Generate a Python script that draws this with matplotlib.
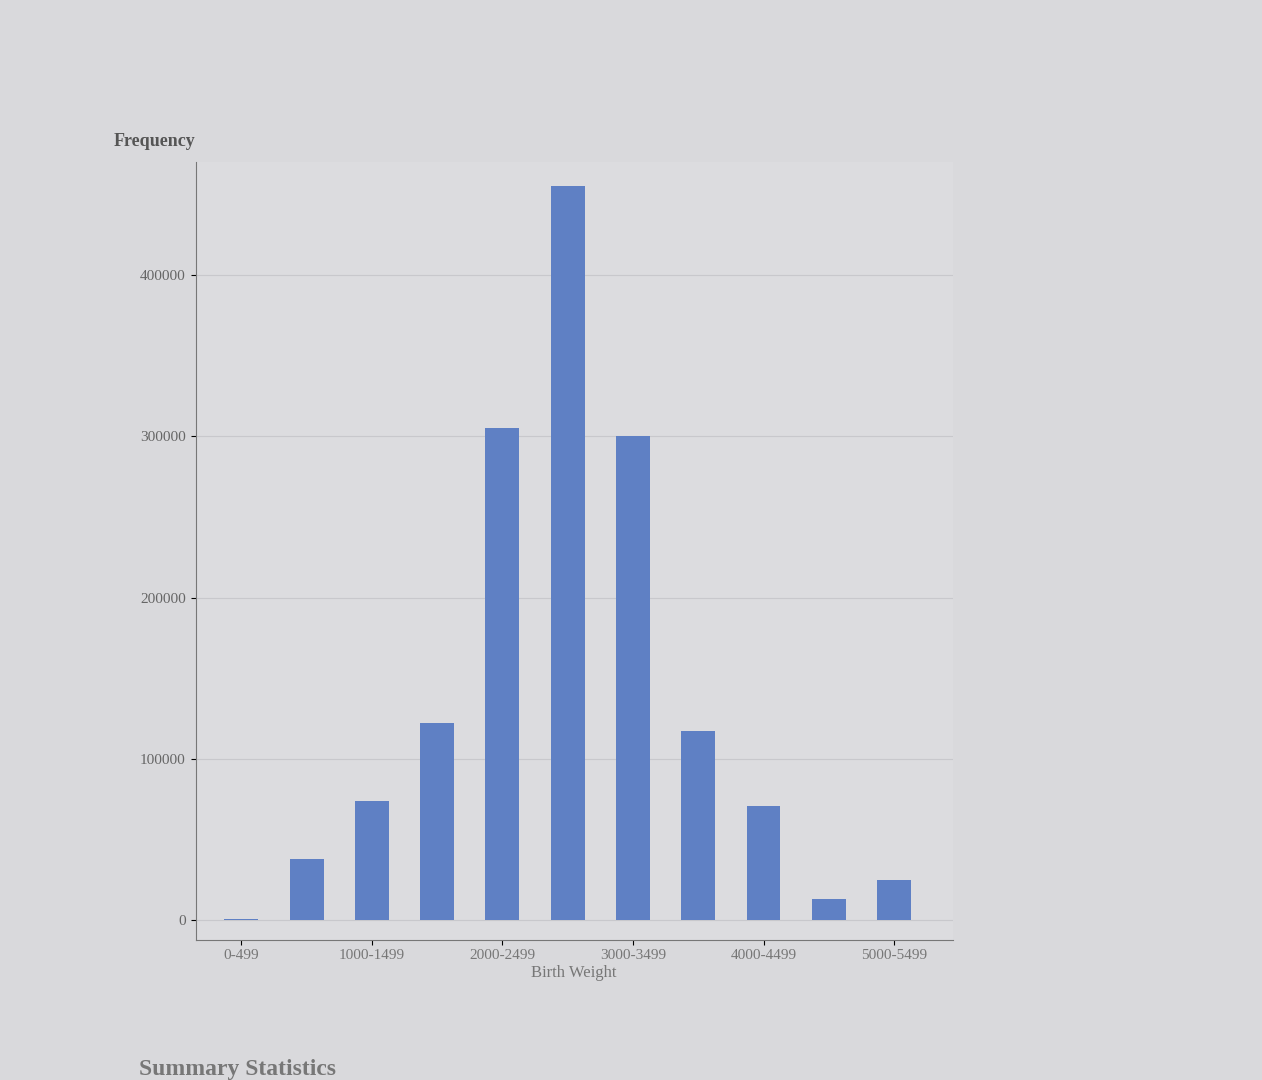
import matplotlib
matplotlib.use("Agg")
import matplotlib.pyplot as plt

categories = ["0-499","500-999","1000-1499","1500-1999","2000-2499","2500-2999",
              "3000-3499","3500-3999","4000-4499","4500-4999","5000-5499"]
frequency = [1000, 38000, 74000, 122000, 305000, 455000, 300000, 117000, 71000, 13000, 25000]
yticks = [0, 100000, 200000, 300000, 400000]

fig = plt.figure(figsize=(12.62, 10.8), dpi=100)
fig.patch.set_facecolor("#d9d9dc")
ax = fig.add_axes([0.155, 0.13, 0.60, 0.72])
ax.set_facecolor("#dcdcdf")
x = list(range(len(categories)))
ax.bar(x, frequency, width=0.52, color="#5f80c4", zorder=3)
ax.set_xlim(-0.7, len(categories) - 0.1)
ax.set_ylim(-12000, 470000)
ax.set_yticks(yticks)
ax.set_yticklabels([str(v) for v in yticks], fontfamily="Liberation Serif", fontsize=11, color="#666")
ax.set_xticks(x[::2])
ax.set_xticklabels(categories[::2], fontfamily="Liberation Serif", fontsize=11, color="#777")
ax.grid(axis="y", color="#c8c8cc", zorder=0)
for s in ["top", "right"]:
    ax.spines[s].set_visible(False)
ax.spines["left"].set_color("#777")
ax.spines["bottom"].set_color("#777")
ax.set_xlabel("Birth Weight", fontfamily="Liberation Serif", fontsize=12, color="#777", labelpad=2)
fig.text(0.09, 0.865, "Frequency", fontfamily="Liberation Serif", fontsize=13, fontweight="bold", color="#555")
fig.text(0.11, 0.0, "Summary Statistics", fontfamily="Liberation Serif", fontsize=17, fontweight="bold", color="#777", va="bottom")
fig.savefig("out.png", facecolor=fig.get_facecolor())
